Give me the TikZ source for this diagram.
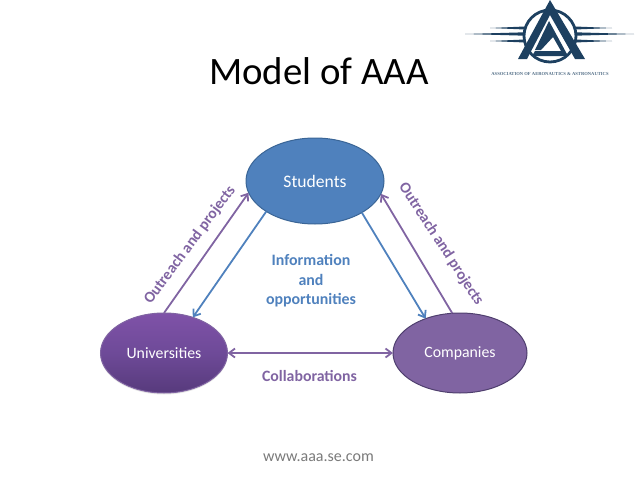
\documentclass[tikz,border=0pt]{standalone}
\usepackage{fontspec}
\setmainfont{Carlito}
\newfontfamily\logofont{Liberation Serif}
\usetikzlibrary{arrows.meta,shapes.geometric,shadows}
\definecolor{aaaBlue}{HTML}{4F81BD}
\definecolor{aaaBlueDark}{HTML}{3A6596}
\definecolor{aaaPurple}{HTML}{8064A2}
\definecolor{aaaPurpleDark}{HTML}{4F3F6E}
\definecolor{aaaPurpleTop}{HTML}{7F52A8}
\definecolor{aaaPurpleMid}{HTML}{6E4A98}
\definecolor{aaaPurpleLow}{HTML}{573A7C}
\definecolor{aaaNavy}{HTML}{1D4060}
\definecolor{aaaGrey}{HTML}{7A7A7A}
\tikzset{
    party/.style={ellipse, draw, line width=1pt, inner sep=0pt, outer sep=0pt, text=white, font=\fontsize{15.8}{19}\selectfont},
    blueline/.style={aaaBlue, line width=1.8pt, -{Straight Barb[length=6pt,width=9pt]}},
    purpleline/.style={aaaPurple, line width=1.8pt, -{Straight Barb[length=6pt,width=9pt]}},
    bluetext/.style={aaaBlue, font=\fontsize{15.9}{19.5}\selectfont\bfseries, align=center},
    purpletext/.style={aaaPurple, font=\fontsize{15.8}{19}\selectfont\bfseries, align=center},
}
\begin{document}
\begin{tikzpicture}[x=1pt, y=-1pt]
    \useasboundingbox (0,0) rectangle (638,479);

    % Title
    \node (title) at (319,71) {\fontsize{38.8}{46}\selectfont Model of AAA};

    % Logo
    \fill[aaaNavy] (465,34) -- (525,32.3) -- (525,35.7) -- cycle;
    \fill[aaaNavy] (490,28) -- (525,26.5) -- (525,29.5) -- cycle;
    \fill[aaaNavy] (490,41) -- (525,39.5) -- (525,42.5) -- cycle;
    \fill[aaaNavy] (634,34) -- (575,32.3) -- (575,35.7) -- cycle;
    \fill[aaaNavy] (612,28) -- (575,26.5) -- (575,29.5) -- cycle;
    \fill[aaaNavy] (612,41) -- (575,39.5) -- (575,42.5) -- cycle;
    \draw[aaaNavy, line width=2.8pt, fill=white] (550,36) circle (26);
    \fill[aaaNavy] (550,0) -- (585,59) -- (575,59) -- (550,15) -- (527,59) -- (518,59) -- cycle;
    \fill[aaaNavy] (549,21) -- (568,56) -- (532,56) -- (535,51) -- (561,51) -- (553,37) -- (541,50) -- (535,50) -- cycle;
    \node (logotext) at (550,74) {\logofont\fontsize{4.6}{5}\selectfont\bfseries\color{aaaNavy!75} ASSOCIATION OF AERONAUTICS \& ASTRONAUTICS};

    % Ellipses
    \node[party, fill=aaaBlue, draw=aaaBlueDark, minimum width=138pt, minimum height=86pt, font=\fontsize{17.6}{21}\selectfont] (students) at (315,181) {Students};
    \node[party, top color=aaaPurpleTop, bottom color=aaaPurpleLow, middle color=aaaPurpleMid, draw=aaaPurple, drop shadow={opacity=0.2, shadow xshift=0pt, shadow yshift=-1.5pt}, minimum width=127pt, minimum height=80pt] (universities) at (164,353) {Universities};
    \node[party, fill=aaaPurple, draw=aaaPurpleDark, minimum width=134pt, minimum height=80pt] (companies) at (460,353) {Companies};

    % Arrows
    \draw[purpleline] (universities.90) -- (students.190);
    \draw[blueline] (students.212) -- (universities.51);
    \draw[blueline] (students.326) -- (companies.135);
    \draw[purpleline] (companies.101) -- (students.349);
    \draw[purpleline, {Straight Barb[length=6pt,width=9pt]}-{Straight Barb[length=6pt,width=9pt]}] (universities) -- (companies);

    % Labels
    \node[purpletext, rotate=53.5, font=\fontsize{15.5}{19}\selectfont\bfseries] (outreachleft) at (190,245) {Outreach and projects};
    \node[purpletext, rotate=-57, font=\fontsize{15.5}{19}\selectfont\bfseries] (outreachright) at (441,244) {Outreach and projects};
    \node[bluetext] (information) at (311,281) {Information\\and\\opportunities};
    \node[purpletext] (collaborations) at (309.5,376) {Collaborations};
    \node[aaaGrey, font=\fontsize{16}{19}\selectfont] (website) at (318.5,458) {www.aaa.se.com};
\end{tikzpicture}
\end{document}
